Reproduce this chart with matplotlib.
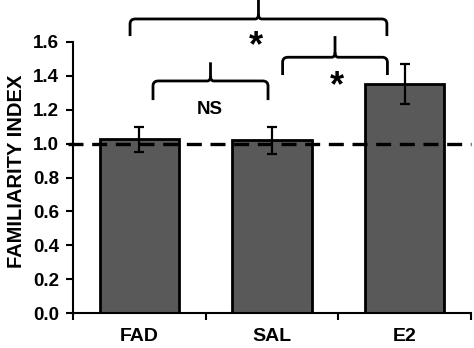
import matplotlib
matplotlib.use("Agg")
import matplotlib.pyplot as plt
from matplotlib.path import Path
from matplotlib.patches import PathPatch

plt.rcParams['font.family'] = ['Liberation Sans', 'DejaVu Sans']
plt.rcParams['font.weight'] = 'bold'

categories = ["FAD", "SAL", "E2"]
values = [1.025, 1.02, 1.352]
errors = [0.075, 0.08, 0.118]
yticks = [0.0, 0.2, 0.4, 0.6, 0.8, 1.0, 1.2, 1.4, 1.6]
ylabel = "FAMILIARITY INDEX"
ref_level = 1.0

fig = plt.figure(figsize=(4.74, 3.48), dpi=100)
ax = fig.add_axes([73/474, 35/348, 398/474, 271/348])

x = list(range(len(categories)))
ax.bar(x, values, width=0.6, color="#595959", edgecolor="black", linewidth=2, zorder=2)
ax.errorbar(x, values, yerr=errors, fmt='none', ecolor='black', elinewidth=1.6,
            capsize=3.5, capthick=1.6, zorder=4)
ax.axhline(ref_level, xmin=-0.012, xmax=1.0, color='black', linestyle=(0, (4.5, 2.6)),
           linewidth=2.4, zorder=3, clip_on=False)

ax.set_xlim(-0.5, 2.5)
ax.set_ylim(0, 1.6)
ax.set_yticks(yticks)
ax.set_yticklabels([f"{v:.1f}" for v in yticks], fontsize=13.5, fontweight='bold')
ax.set_xticks(x)
ax.set_xticklabels(categories, fontsize=14, fontweight='bold')
ax.set_xticks([-0.5, 0.5, 1.5, 2.5], minor=True)
ax.tick_params(axis='x', which='major', length=0, pad=11)
ax.tick_params(axis='x', which='minor', length=5, width=1.5, direction='out')
ax.tick_params(axis='y', length=5, width=1.5, direction='out', pad=5)
ax.spines['top'].set_visible(False)
ax.spines['right'].set_visible(False)
ax.spines['left'].set_linewidth(1.5)
ax.spines['bottom'].set_linewidth(1.5)
ax.set_ylabel(ylabel, fontsize=14.5, fontweight='bold')
ax.yaxis.set_label_coords(-0.118, 0.522)


def brace(x0, x1, y, yend, ytop, r=0.04, ry=0.03):
    xm = (x0 + x1) / 2
    verts = [
        (x0, yend), (x0, y - ry), (x0, y), (x0 + r, y),
        (xm - r * 0.6, y), (xm, y), (xm, y + ry), (xm, ytop),
    ]
    codes = [Path.MOVETO, Path.LINETO, Path.CURVE3, Path.CURVE3,
             Path.LINETO, Path.CURVE3, Path.CURVE3, Path.LINETO]
    p1 = Path(verts, codes)
    verts2 = [
        (x1, yend), (x1, y - ry), (x1, y), (x1 - r, y),
        (xm + r * 0.6, y), (xm, y), (xm, y + ry),
    ]
    codes2 = [Path.MOVETO, Path.LINETO, Path.CURVE3, Path.CURVE3,
              Path.LINETO, Path.CURVE3, Path.CURVE3]
    p2 = Path(verts2, codes2)
    for p in (p1, p2):
        ax.add_patch(PathPatch(p, facecolor='none', edgecolor='black', linewidth=2,
                               clip_on=False, capstyle='butt', joinstyle='round'))


brace(-0.07, 1.866, 1.736, 1.635, 1.848)
brace(0.103, 0.97, 1.37, 1.257, 1.48)
brace(1.08, 1.87, 1.51, 1.405, 1.635)

ax.text(0.88, 1.575, "*", ha='center', va='center', fontsize=26, fontweight='bold')
ax.text(1.49, 1.335, "*", ha='center', va='center', fontsize=26, fontweight='bold')
ax.text(0.532, 1.204, "NS", ha='center', va='center', fontsize=13.5, fontweight='bold')

fig.savefig("out.png", dpi=100)
